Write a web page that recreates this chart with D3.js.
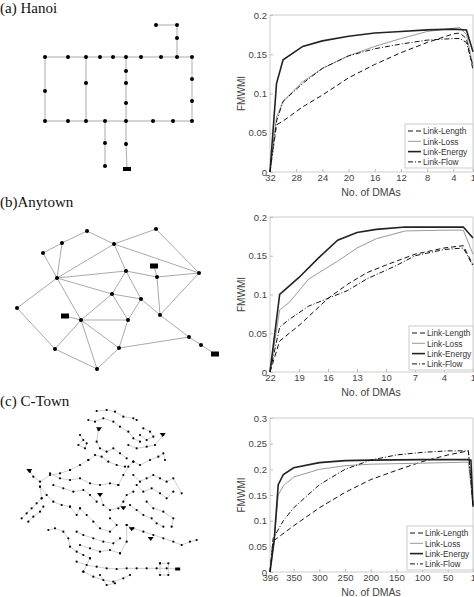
<!DOCTYPE html>
<html><head><meta charset="utf-8">
<script src="https://cdn.jsdelivr.net/npm/d3@7"></script>
<style>body{margin:0;background:#fff}</style></head>
<body><svg id="s" width="474" height="597"></svg>
<script>
// ---------- chart data ----------
const seriesNames = ["Link-Length","Link-Loss","Link-Energy","Link-Flow"];
const hanoiTicks = [32,28,24,20,16,12,8,4,1];
const hanoiLength = [[32,0],[31,0.06],[30,0.065],[27,0.083],[24,0.098],[20,0.12],[16,0.137],[12,0.152],[8,0.165],[4,0.176],[3,0.177],[2,0.17],[1,0.13]];
const hanoiLoss   = [[32,0],[31,0.07],[30,0.09],[27,0.115],[24,0.132],[20,0.148],[16,0.16],[12,0.17],[8,0.179],[4,0.183],[3,0.184],[2,0.175],[1,0.135]];
const hanoiEnergy = [[32,0],[31,0.113],[30,0.143],[27,0.16],[24,0.167],[20,0.173],[16,0.177],[12,0.179],[8,0.181],[4,0.182],[2,0.181],[1,0.153]];
const hanoiFlow   = [[32,0],[31,0.065],[30,0.09],[27,0.113],[24,0.132],[20,0.148],[16,0.157],[12,0.163],[8,0.168],[4,0.17],[3,0.17],[2,0.165],[1,0.135]];
const anyTicks = [22,19,16,13,10,7,4,1];
const anyLength = [[22,0],[21,0.04],[19,0.06],[16,0.095],[14,0.113],[12,0.128],[10,0.138],[7,0.152],[4,0.16],[2,0.163],[1,0.138]];
const anyLoss   = [[22,0],[21,0.08],[20,0.09],[18,0.12],[15,0.143],[13,0.16],[11,0.172],[8,0.182],[4,0.183],[2,0.183],[1,0.152]];
const anyEnergy = [[22,0],[21,0.1],[19,0.122],[17,0.147],[15,0.17],[13,0.18],[11,0.184],[8,0.187],[4,0.187],[2,0.187],[1,0.173]];
const anyFlow   = [[22,0],[21,0.058],[20,0.068],[18,0.085],[16,0.095],[14,0.105],[12,0.12],[9,0.137],[7,0.15],[4,0.158],[2,0.16],[1,0.137]];
const ctTicks = [396,350,300,250,200,150,100,50,1];
const ctLength = [[396,0],[390,0.06],[350,0.09],[300,0.125],[250,0.155],[200,0.18],[150,0.198],[100,0.215],[50,0.228],[10,0.236],[1,0.13]];
const ctLoss   = [[396,0],[388,0.06],[380,0.15],[370,0.168],[350,0.185],[300,0.2],[250,0.207],[200,0.21],[100,0.212],[10,0.214],[1,0.13]];
const ctEnergy = [[396,0],[388,0.06],[380,0.17],[370,0.19],[350,0.203],[300,0.213],[250,0.217],[200,0.218],[100,0.219],[10,0.219],[5,0.218],[1,0.127]];
const ctFlow   = [[396,0],[390,0.065],[370,0.1],[350,0.125],[300,0.17],[250,0.2],[200,0.218],[150,0.228],[100,0.233],[50,0.236],[10,0.236],[1,0.13]];

// ---------- network drawings ----------
const hanoiNodes = {a:[45,57],b:[68,57],c:[86,57],d:[100,57],e:[113,57],f:[126,57],g:[141,57],h:[161,57],i:[177,57],j:[192,57],
 k:[45,121],l:[68,121],m:[86,121],n:[105,121],o:[126,121],p:[153,121],q:[173,121],r:[192,121],
 s:[45,91],t:[86,83],u:[126,71],v:[126,83],w:[126,103],x:[192,79],y:[192,101],z:[177,38],A:[177,25],B:[156,25],
 C:[105,143],D:[105,166],E:[126,144]};
const hanoiEdges = ["ab","bc","cd","de","ef","fg","gh","hi","ij","kl","lm","mn","no","op","pq","qr","as","sk","ct","tm","fu","uv","vw","wo","jx","xy","yr","iz","zA","AB","nC","CD","oE"];
const hanoiRes = [[127,169]];
const anyNodes = {A:[87,231],B:[62,243],C:[43,253],D:[114,244],E:[156,229],F:[57,278],G:[126,271],H:[157,277],I:[199,273],J:[112,294],K:[141,299],L:[17,308],M:[81,320],N:[128,320],O:[160,315],P:[189,337],Q:[201,345],R:[55,349],S:[119,348],T:[97,369],
 t1:[154,266],t2:[65,316],t3:[215,354]};
const anyEdges = ["CB","BA","AD","DE","EI","DI","BF","CF","FD","FG","GH","HI","FJ","FM","LF","LR","RM","RT","MT","MJ","JG","GK","JK","JN","MN","KN","KO","HO","OI","OP","PQ","Q-t3","NS","MS","SP","ST","DG","M-t2","H-t1"];
const anyTanks = ["t1","t2","t3"];
const ctChains = [
 [[290,48],[320,45],[345,50],[370,65],[400,70],[410,75]],
 [[265,75],[285,80],[310,70],[340,80],[360,95],[385,110],[400,130],[420,140]],
 [[240,120],[250,135],[235,150],[255,160],[260,145]],
 [[295,105],[290,140],[300,160],[320,170],[340,160],[360,175],[380,190]],
 [[265,195],[285,180],[305,185],[325,200],[350,210],[375,215]],
 [[385,150],[410,160],[440,155],[465,150],[490,120]],
 [[430,100],[450,110],[460,125],[440,135],[420,120]],
 [[400,200],[420,210],[450,195],[475,185],[490,175],[495,195]],
 [[90,230],[100,245],[120,260],[150,240],[180,235],[210,225]],
 [[150,235],[180,250],[210,255],[240,250],[270,265],[300,270],[330,265],[355,270]],
 [[120,275],[140,300],[160,320],[185,330],[210,335]],
 [[160,270],[190,280],[220,290],[250,285],[270,300],[290,320]],
 [[65,370],[80,355],[95,340],[110,325],[125,310]],
 [[85,380],[100,365],[120,350],[130,335]],
 [[300,300],[310,330],[330,345],[355,340],[370,320],[380,300],[400,290]],
 [[400,240],[420,260],[440,250],[460,240],[480,250],[500,260],[520,250],[545,295]],
 [[410,270],[430,290],[455,280],[480,295],[500,310],[520,290]],
 [[390,330],[410,345],[430,360],[455,370],[470,385],[490,395]],
 [[380,390],[400,400],[430,410],[460,420],[490,430],[520,440],[545,450],[570,440],[590,435]],
 [[145,405],[165,400],[190,410],[205,430],[210,455],[230,470],[250,480],[270,490]],
 [[230,410],[250,420],[280,430],[310,440],[340,445],[360,430]],
 [[240,450],[270,460],[300,470],[330,465],[360,475]],
 [[230,500],[260,510],[290,515],[320,520],[350,522],[380,520],[410,520],[440,520],[470,520],[500,520],[530,522]],
 [[250,530],[280,545],[310,555],[340,560],[370,550],[390,540]],
 [[300,540],[320,570],[345,565]],
 [[480,505],[480,540],[505,540],[505,505],[480,505]],
 [[330,370],[350,390],[330,410],[300,400],[280,380],[260,360],[240,340]],
 [[440,320],[460,340],[490,350],[520,370],[515,395]],
 [[210,225],[240,210],[265,195]],[[355,270],[370,240],[385,215],[400,200]],[[210,335],[230,360],[240,340]],
 [[360,475],[380,440],[380,390]],[[270,490],[250,530]],[[125,310],[120,275]]
];
const ctTanks = [[297,103],[488,120],[88,228],[300,300],[370,340],[395,403],[452,432]];
const ctRes = [[533,522]];

const svg = d3.select("#s");
const panelLabels = ["(a) Hanoi","(b)Anytown","(c) C-Town"];
const labelY = [13,207,406];
svg.selectAll("text.pl").data(panelLabels).join("text").attr("x",0).attr("y",(d,i)=>labelY[i])
 .attr("font-family","Liberation Serif").attr("font-size",15).attr("fill","#111").text(d=>d);

const gray="#aaa";
{ const g=svg.append("g"); const sx=d3.scaleLinear().domain([0,1]).range([0,1]), sy=sx;
  hanoiEdges.forEach(e=>{const a=hanoiNodes[e[0]],b=hanoiNodes[e[1]];
   g.append("line").attr("x1",sx(a[0])).attr("y1",sy(a[1])).attr("x2",sx(b[0])).attr("y2",sy(b[1])).attr("stroke",gray).attr("stroke-width",1);});
  g.append("line").attr("x1",126).attr("y1",144).attr("x2",127).attr("y2",169).attr("stroke",gray);
  g.selectAll("circle").data(Object.values(hanoiNodes)).join("circle").attr("cx",d=>sx(d[0])).attr("cy",d=>sy(d[1])).attr("r",2).attr("fill","#000");
  g.selectAll("rect").data(hanoiRes).join("rect").attr("x",d=>sx(d[0])-4).attr("y",d=>sy(d[1])-2).attr("width",8).attr("height",4).attr("fill","#000");
}
{ const g=svg.append("g"); const sx=d3.scaleLinear().domain([0,1]).range([0,1]), sy=sx;
  anyEdges.forEach(e=>{let p=e.includes("-")?e.split("-"):[e[0],e[1]];const a=anyNodes[p[0]],b=anyNodes[p[1]];
   g.append("line").attr("x1",sx(a[0])).attr("y1",sy(a[1])).attr("x2",sx(b[0])).attr("y2",sy(b[1])).attr("stroke",gray);});
  const ns=Object.entries(anyNodes);
  g.selectAll("circle").data(ns.filter(d=>!anyTanks.includes(d[0]))).join("circle").attr("cx",d=>sx(d[1][0])).attr("cy",d=>sy(d[1][1])).attr("r",2).attr("fill","#000");
  g.selectAll("rect").data(ns.filter(d=>anyTanks.includes(d[0]))).join("rect").attr("x",d=>sx(d[1][0])-4).attr("y",d=>sy(d[1][1])-2.5).attr("width",8).attr("height",5).attr("fill","#000");
}
{ const g=svg.append("g"); const sx=d3.scaleLinear().domain([0,711]).range([0,237]), sy=d3.scaleLinear().domain([0,606]).range([395,597]);
  const line=d3.line().x(d=>sx(d[0])).y(d=>sy(d[1]));
  g.selectAll("path").data(ctChains).join("path").attr("d",line).attr("fill","none").attr("stroke","#bbb").attr("stroke-width",0.7);
  g.selectAll("circle").data(ctChains.flat()).join("circle").attr("cx",d=>sx(d[0])).attr("cy",d=>sy(d[1])).attr("r",1.1).attr("fill","#000");
  g.selectAll("path.t").data(ctTanks).join("path").attr("class","t").attr("d",d=>`M${sx(d[0])-3},${sy(d[1])-2}h6l-3,4z`).attr("fill","#000");
  g.selectAll("rect").data(ctRes).join("rect").attr("x",d=>sx(d[0])-2.5).attr("y",d=>sy(d[1])-1.5).attr("width",5).attr("height",3).attr("fill","#000");
}

const styles=[{c:"#111",w:1,da:"5,3"},{c:"#999",w:1,da:null},{c:"#222",w:1.6,da:null},{c:"#111",w:1,da:"5,2,1,2"}];
function chart(cfg){
  const g=svg.append("g");
  const x=d3.scaleLinear().domain(cfg.xd).range([270,473]);
  const y=d3.scaleLinear().domain([0,cfg.ymax]).range([cfg.y0,cfg.y1]);
  g.append("rect").attr("x",270).attr("y",cfg.y1).attr("width",203).attr("height",cfg.y0-cfg.y1).attr("fill","none").attr("stroke","#ccc");
  const xa=g.append("g").attr("transform",`translate(0,${cfg.y0})`).call(d3.axisBottom(x).tickValues(cfg.ticks).tickSize(-3).tickPadding(2).tickFormat(d3.format("d")));
  const ya=g.append("g").attr("transform",`translate(270,0)`).call(d3.axisLeft(y).tickValues(cfg.yt).tickSize(-3).tickFormat(d=>d===0?"0":d3.format("")(+d.toFixed(2))));
  [xa,ya].forEach(a=>{a.select(".domain").remove();a.selectAll("line").attr("stroke","#bbb");
    a.selectAll("text").attr("font-family","Liberation Sans").attr("font-size",9.5).attr("fill","#444");});
  g.append("text").attr("x",371).attr("y",cfg.y0+24).attr("text-anchor","middle").attr("font-family","Liberation Sans").attr("font-size",10.5).attr("fill","#444").text("No. of DMAs");
  g.append("text").attr("transform",`translate(245,${(cfg.y0+cfg.y1)/2}) rotate(-90)`).attr("text-anchor","middle").attr("font-family","Liberation Sans").attr("font-size",10).attr("fill","#444").text("FMWMI");
  const ln=d3.line().x(d=>x(d[0])).y(d=>y(d[1]));
  cfg.series.forEach((s,i)=>g.append("path").attr("d",ln(s)).attr("fill","none").attr("stroke",styles[i].c).attr("stroke-width",styles[i].w).attr("stroke-dasharray",styles[i].da));
  const lx=cfg.lx, ly=cfg.ly;
  g.append("rect").attr("x",lx).attr("y",ly).attr("width",473-lx).attr("height",44).attr("fill","#fff").attr("stroke","#ccc");
  seriesNames.forEach((n,i)=>{const yy=ly+7+i*10.3;
    g.append("line").attr("x1",lx+3).attr("x2",lx+16).attr("y1",yy).attr("y2",yy).attr("stroke",styles[i].c).attr("stroke-width",styles[i].w).attr("stroke-dasharray",styles[i].da);
    g.append("text").attr("x",lx+18).attr("y",yy+3.2).attr("font-family","Liberation Sans").attr("font-size",8.3).attr("fill","#333").text(n);});
}
chart({xd:[32,1],ticks:hanoiTicks,ymax:0.2,yt:[0,0.05,0.1,0.15,0.2],y0:172,y1:15,series:[hanoiLength,hanoiLoss,hanoiEnergy,hanoiFlow],lx:405,ly:124});
chart({xd:[22,1],ticks:anyTicks,ymax:0.2,yt:[0,0.05,0.1,0.15,0.2],y0:372,y1:217,series:[anyLength,anyLoss,anyEnergy,anyFlow],lx:409,ly:326});
chart({xd:[396,1],ticks:ctTicks,ymax:0.3,yt:[0,0.05,0.1,0.15,0.2,0.25,0.3],y0:572,y1:418,series:[ctLength,ctLoss,ctEnergy,ctFlow],lx:407,ly:526});
</script></body></html>
